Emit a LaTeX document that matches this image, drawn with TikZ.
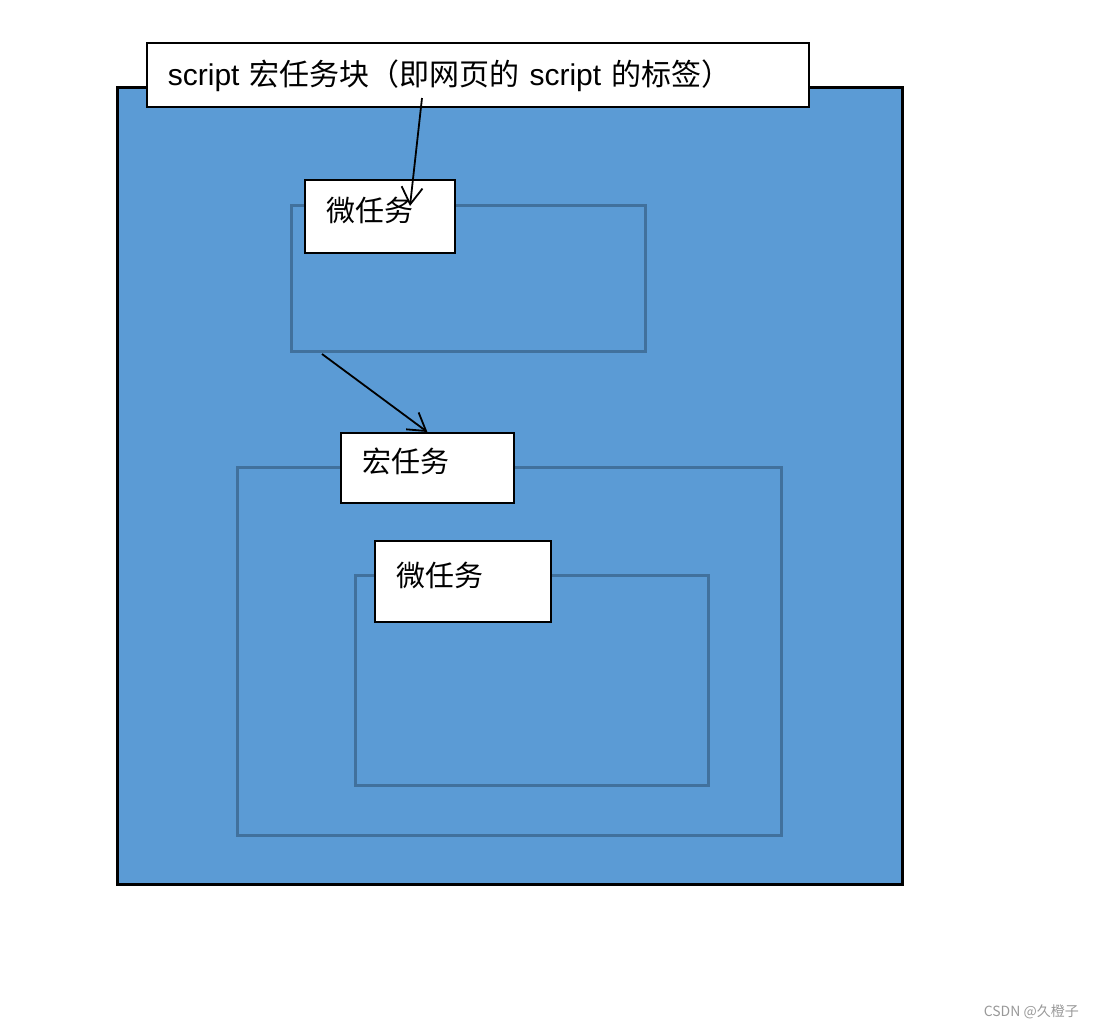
\documentclass[tikz,border=0pt]{standalone}
\usepackage{fontspec}
\setmainfont{Liberation Sans}
\newfontfamily\cjk{Noto Sans CJK SC}
\usetikzlibrary{arrows.meta}
\definecolor{pageblue}{RGB}{91,155,213}
\definecolor{frameblue}{RGB}{65,113,157}

\begin{document}
\begin{tikzpicture}[x=1pt,y=-1pt,
    page/.style={draw=black, line width=3pt, fill=pageblue, inner sep=0pt, anchor=north west},
    task block/.style={draw=frameblue, line width=2.6pt, inner sep=0pt, anchor=north west},
    label box/.style={draw=black, line width=1.8pt, fill=white, anchor=north west,
        inner xsep=22pt, inner ysep=0pt, align=left, font=\fontsize{29}{31}\cjk,
        text height=24pt, text depth=14pt},
    link/.style={draw, line width=1.8pt, -{Straight Barb[length=17pt,width=21pt]}}]
    \useasboundingbox (0,0) rectangle (1094,1028);
    % blocks
    \node [page, minimum width=785, minimum height=797] (page) at (116,86) {};
    \node [task block, minimum width=354, minimum height=146] (micro block) at (290,204) {};
    \node [task block, minimum width=544, minimum height=368] (macro block) at (236,466) {};
    \node [task block, minimum width=353, minimum height=210] (inner micro block) at (354,574) {};
    % labels
    \node [label box, inner xsep=21pt, text width=620pt, minimum height=64pt,
        font=\fontsize{30}{32}\selectfont, text height=22pt, text depth=0pt] (script)
        at (146,42) {script {\cjk 宏任务块（即网页的} script {\cjk 的标签）}};
    \node [label box, text width=106pt, minimum height=73pt] (micro) at (304,179) {微任务};
    \node [label box, text width=129pt, minimum height=70pt] (macro) at (340,432) {宏任务};
    \node [label box, text width=132pt, minimum height=81pt] (inner micro) at (374,540) {微任务};
    % links
    \coordinate (script out) at (422,98);
    \coordinate (micro in) at (410,206);
    \coordinate (micro out) at (322,354);
    \draw [link] (script out) -- (micro in);
    \draw [link] (micro out) -- (macro.north);
    \node [anchor=east, inner sep=0pt, text=black!40, font=\fontsize{14}{16}\cjk] (watermark)
        at (1079,1012) {CSDN @久橙子};
\end{tikzpicture}
\end{document}
